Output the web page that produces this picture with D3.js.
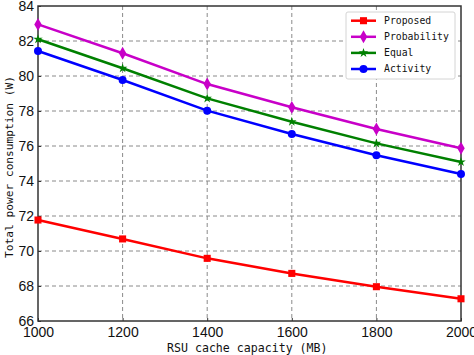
<!DOCTYPE html>
<html><head><meta charset="utf-8">
<script src="https://cdn.jsdelivr.net/npm/d3@7/dist/d3.min.js"></script>
<style>body{margin:0;background:#fff}svg{display:block}</style>
</head><body>
<svg id="c" width="474" height="355"></svg>
<script>
const capacities = [1000, 1200, 1400, 1600, 1800, 2000];
const proposed    = [71.77, 70.69, 69.58, 68.72, 67.96, 67.27];
const probability = [82.95, 81.30, 79.54, 78.21, 76.97, 75.87];
const equal       = [82.10, 80.44, 78.72, 77.39, 76.15, 75.09];
const activity    = [81.43, 79.77, 78.02, 76.69, 75.47, 74.40];
const seriesNames = ["Proposed", "Probability", "Equal", "Activity"];
const xTicks = [1000, 1200, 1400, 1600, 1800, 2000];
const yTicks = [66, 68, 70, 72, 74, 76, 78, 80, 82, 84];

const colors = ["#ff0000", "#c800c8", "#008000", "#0000ff"];
const symbols = [d3.symbolSquare, d3.symbolDiamond, d3.symbolStar, d3.symbolCircle];
const symSizes = [50, 48, 28, 50];
const data = [proposed, probability, equal, activity];

const svg = d3.select("#c");
const L = 38, R = 461, T = 6, B = 321;
const x = d3.scaleLinear().domain([1000, 2000]).range([L, R]);
const y = d3.scaleLinear().domain([66, 84]).range([B, T]);

// grid
const g = svg.append("g");
g.selectAll("line.v").data(xTicks.slice(1, -1)).enter().append("line")
  .attr("x1", d => x(d)).attr("x2", d => x(d)).attr("y1", T).attr("y2", B)
  .attr("stroke", "#8a8a8a").attr("stroke-width", 1).attr("stroke-dasharray", "4,3");
g.selectAll("line.h").data(yTicks.slice(1, -1)).enter().append("line")
  .attr("y1", d => y(d)).attr("y2", d => y(d)).attr("x1", L).attr("x2", R)
  .attr("stroke", "#8a8a8a").attr("stroke-width", 1).attr("stroke-dasharray", "4,3");

// axes
const xAxis = d3.axisBottom(x).tickValues(xTicks).tickSize(-3).tickPadding(6).tickFormat(d3.format("d"));
const yAxis = d3.axisLeft(y).tickValues(yTicks).tickSize(-3).tickPadding(5);
const gx = svg.append("g").attr("transform", `translate(0,${B})`).call(xAxis);
const gy = svg.append("g").attr("transform", `translate(${L},0)`).call(yAxis);
[gx, gy].forEach(a => {
  a.select(".domain").remove();
  a.selectAll(".tick line").attr("stroke", "#333");
  a.selectAll("text").attr("fill", "#111").style("font-family", "'Liberation Sans', Arial, sans-serif").style("font-size", "14px");
});
gx.selectAll("text").attr("dy", "0.71em");
gy.selectAll("text").attr("dx", "1");

// frame
svg.append("rect").attr("x", L).attr("y", T).attr("width", R - L).attr("height", B - T)
  .attr("fill", "none").attr("stroke", "#333").attr("stroke-width", 1.5);

// lines
const line = d3.line().x((d, i) => x(capacities[i])).y(d => y(d));
data.forEach((vals, k) => {
  svg.append("path").datum(vals).attr("d", line).attr("fill", "none")
    .attr("stroke", colors[k]).attr("stroke-width", 2.5);
  svg.selectAll(null).data(vals).enter().append("path")
    .attr("transform", (d, i) => `translate(${x(capacities[i])},${y(d)})`)
    .attr("d", d3.symbol().type(symbols[k]).size(symSizes[k]))
    .attr("fill", colors[k]);
});

// axis titles
svg.append("text").attr("x", 167).attr("y", 352)
  .style("font-family", "'DejaVu Sans Mono', monospace").style("font-size", "11.6px").attr("fill", "#111")
  .text("RSU cache capacity (MB)");
svg.append("text").attr("transform", "translate(13,167) rotate(-90)").attr("text-anchor", "middle")
  .style("font-family", "'DejaVu Sans Mono', monospace").style("font-size", "11.2px").attr("fill", "#111")
  .text("Total power consumption (W)");

// legend
const lg = svg.append("g");
lg.append("rect").attr("x", 346).attr("y", 12).attr("width", 109).attr("height", 67).attr("rx", 2)
  .attr("fill", "#fff").attr("stroke", "#d4d4d4").attr("stroke-width", 1);
seriesNames.forEach((name, k) => {
  const yy = 20.7 + k * 16.1;
  lg.append("line").attr("x1", 351).attr("x2", 376).attr("y1", yy).attr("y2", yy)
    .attr("stroke", colors[k]).attr("stroke-width", 2.5);
  lg.append("path").attr("transform", `translate(363.5,${yy})`)
    .attr("d", d3.symbol().type(symbols[k]).size(symSizes[k])).attr("fill", colors[k]);
  lg.append("text").attr("x", 384).attr("y", yy).attr("dy", "0.35em")
    .style("font-family", "'DejaVu Sans Mono', monospace").style("font-size", "9.8px").attr("fill", "#111")
    .text(name);
});
</script>
</body></html>
